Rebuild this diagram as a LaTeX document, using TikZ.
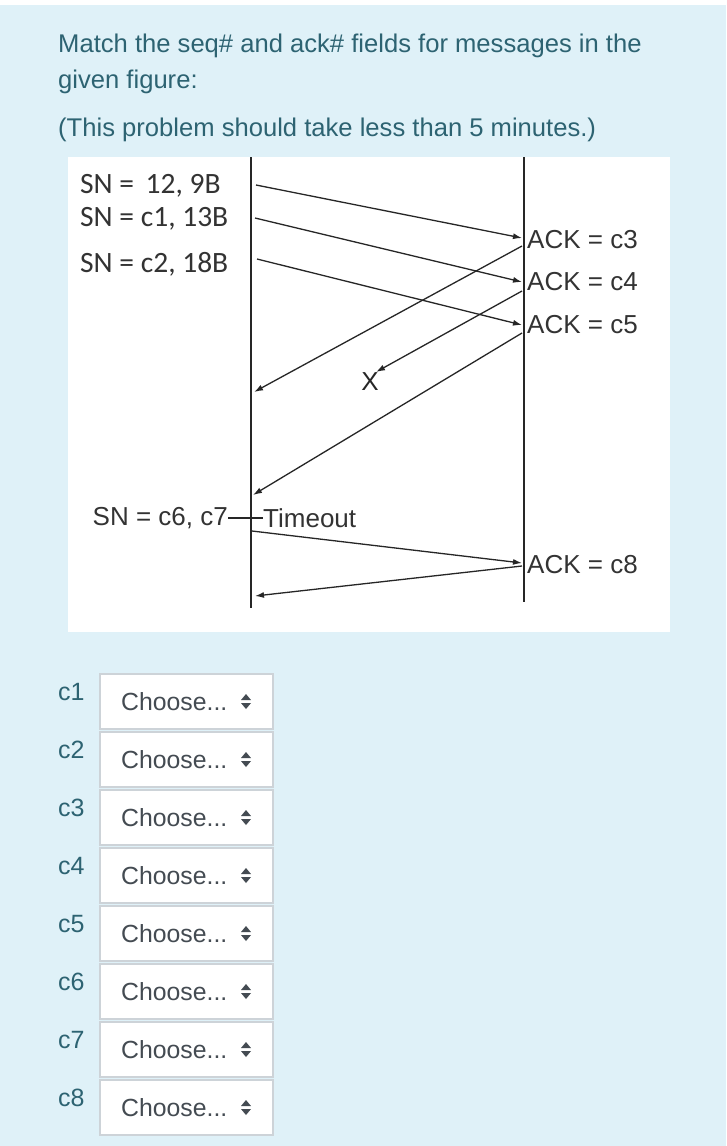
\documentclass[tikz,border=0pt]{standalone}
\usepackage{fontspec}
\setmainfont{Liberation Sans}
\newfontfamily\carlitofont{Carlito}
\usetikzlibrary{arrows.meta}
\definecolor{bgb}{HTML}{DFF1F8}
\definecolor{teal}{HTML}{2D6372}
\definecolor{gtx}{HTML}{444B52}
\definecolor{bord}{HTML}{CDD3D8}
\begin{document}
\begin{tikzpicture}[x=1pt,y=-1pt,
  msg/.style={draw=black!85,line width=1.3pt,-{Latex[length=9pt,width=6pt]}},
  hd/.style={anchor=base west,text=teal,font=\fontsize{25.6}{30}\selectfont,inner sep=0},
  lbl/.style={anchor=west,font=\carlitofont\fontsize{29.5}{32}\selectfont,text=black!80,inner sep=0},
  ack/.style={anchor=west,font=\fontsize{26}{30}\selectfont,text=black!80,inner sep=0},
  sel/.style={draw=bord,line width=1.5pt,fill=white,minimum width=173pt,minimum height=55pt,anchor=north west},
  cl/.style={anchor=base west,text=teal,font=\fontsize{25}{30}\selectfont,inner sep=0}]
\useasboundingbox (0,0) rectangle (726,1146);
\fill[white] (0,0) rectangle (726,1146);
\fill[bgb] (0,5) rectangle (726,1146);
\node[hd] (t1) at (58,52) {Match the seq\# and ack\# fields for messages in the};
\node[hd] (t2) at (58,88) {given figure:};
\node[hd] (t3) at (58,136) {(This problem should take less than 5 minutes.)};
\fill[white] (68,157) rectangle (670,632);
\coordinate (lt) at (251,157); \coordinate (lb) at (251,608);
\coordinate (rt) at (524,157); \coordinate (rb) at (524,602);
\draw[line width=1.3pt,black!85] (lt) -- (lb) (rt) -- (rb);
\coordinate (s1) at (256,185); \coordinate (e1) at (522,238);
\coordinate (s2) at (255,218); \coordinate (e2) at (522,282);
\coordinate (s3) at (257,259); \coordinate (e3) at (522,325);
\draw[msg] (s1) -- (e1); \draw[msg] (s2) -- (e2); \draw[msg] (s3) -- (e3);
\coordinate (b1) at (522,246); \coordinate (f1) at (254,392);
\coordinate (b2) at (522,291); \coordinate (f2) at (376,372);
\coordinate (b3) at (522,333); \coordinate (f3) at (253,495);
\draw[msg] (b1) -- (f1); \draw[msg] (b2) -- (f2); \draw[msg] (b3) -- (f3);
\node[font=\fontsize{26}{30}\selectfont,text=black!85,inner sep=0] (x) at (370,382) {X};
\node[lbl] (l1) at (80,186) {SN =\, 12, 9B};
\node[lbl] (l2) at (80,219) {SN = c1, 13B};
\node[lbl] (l3) at (80,264) {SN = c2, 18B};
\node[ack] (a1) at (527,240) {ACK = c3};
\node[ack] (a2) at (527,282) {ACK = c4};
\node[ack] (a3) at (527,325) {ACK = c5};
\node[ack] (a4) at (527,565) {ACK = c8};
\node[ack,anchor=east] (sn) at (228,518) {SN = c6, c7};
\node[ack] (to) at (263,518) {Timeout};
\draw[line width=1.3pt,black!85] (sn.east) -- (to.west);
\coordinate (s4) at (252,531); \coordinate (e4) at (522,563);
\coordinate (b4) at (522,566); \coordinate (f4) at (255,596);
\draw[msg] (s4) -- (e4); \draw[msg] (b4) -- (f4);
\foreach \i in {1,...,8}{
  \pgfmathsetmacro{\yy}{673+58*(\i-1)}
  \node[cl] (c\i) at (58,\yy+27) {c\i};
  \node[sel] (b\i) at (99,\yy) {};
  \node[anchor=west,text=gtx,font=\fontsize{24.8}{30}\selectfont,inner sep=0] (ch\i) at (121,\yy+29) {Choose...};
  \fill[gtx] (241,\yy+27) -- (251,\yy+27) -- (246,\yy+21) -- cycle;
  \fill[gtx] (241,\yy+30) -- (251,\yy+30) -- (246,\yy+36) -- cycle;
}
\end{tikzpicture}
\end{document}
